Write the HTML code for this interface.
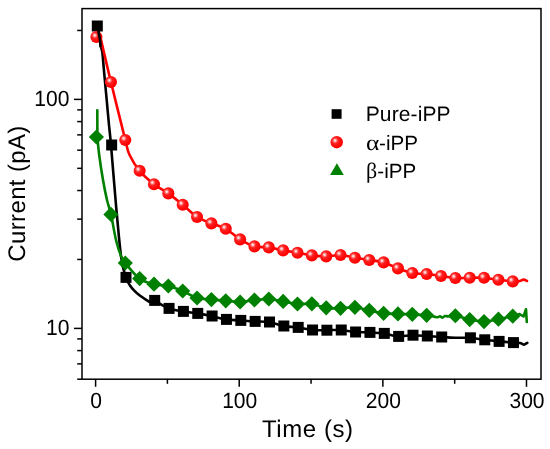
<!DOCTYPE html>
<html lang="en"><head><meta charset="utf-8"><title>Current vs Time</title>
<style>html,body{margin:0;padding:0;background:#fff;}svg{display:block;filter:blur(0.4px);}text{text-rendering:geometricPrecision;}</style>
</head><body>
<svg width="550" height="449" viewBox="0 0 550 449">
<defs><radialGradient id="rg" cx="0.38" cy="0.38" r="0.55" fx="0.36" fy="0.36"><stop offset="0" stop-color="#fff4f4"/><stop offset="0.12" stop-color="#ffd0d0"/><stop offset="0.25" stop-color="#ff7a7a"/><stop offset="0.45" stop-color="#ff2020"/><stop offset="1" stop-color="#ff0000"/></radialGradient></defs>
<rect width="550" height="449" fill="#fff"/>
<g stroke="#000" stroke-width="1.50" fill="none" stroke-linecap="butt">
<rect x="82.00" y="8.60" width="459.00" height="370.60"/>
<line x1="95.60" y1="379.20" x2="95.60" y2="386.80"/>
<line x1="167.41" y1="379.20" x2="167.41" y2="383.80"/>
<line x1="239.23" y1="379.20" x2="239.23" y2="386.80"/>
<line x1="311.04" y1="379.20" x2="311.04" y2="383.80"/>
<line x1="382.86" y1="379.20" x2="382.86" y2="386.80"/>
<line x1="454.67" y1="379.20" x2="454.67" y2="383.80"/>
<line x1="526.49" y1="379.20" x2="526.49" y2="386.80"/>
<line x1="77.20" y1="379.20" x2="82.00" y2="379.20"/>
<line x1="77.20" y1="363.87" x2="82.00" y2="363.87"/>
<line x1="77.20" y1="350.59" x2="82.00" y2="350.59"/>
<line x1="77.20" y1="338.88" x2="82.00" y2="338.88"/>
<line x1="74.00" y1="328.40" x2="82.00" y2="328.40"/>
<line x1="77.20" y1="259.46" x2="82.00" y2="259.46"/>
<line x1="77.20" y1="219.14" x2="82.00" y2="219.14"/>
<line x1="77.20" y1="190.53" x2="82.00" y2="190.53"/>
<line x1="77.20" y1="168.34" x2="82.00" y2="168.34"/>
<line x1="77.20" y1="150.20" x2="82.00" y2="150.20"/>
<line x1="77.20" y1="134.87" x2="82.00" y2="134.87"/>
<line x1="77.20" y1="121.59" x2="82.00" y2="121.59"/>
<line x1="77.20" y1="109.88" x2="82.00" y2="109.88"/>
<line x1="74.00" y1="99.40" x2="82.00" y2="99.40"/>
<line x1="77.20" y1="30.46" x2="82.00" y2="30.46"/>
</g>
<path d="M97.40,26.00 C97.53,26.67 98.05,29.13 98.40,31.00 C98.75,32.87 99.71,38.00 100.00,40.00 C100.29,42.00 100.29,44.40 100.60,46.00 C100.91,47.60 101.83,48.53 102.30,52.00 C102.77,55.47 103.51,65.60 104.10,72.00 C104.69,78.40 106.05,92.93 106.70,100.00 C107.35,107.07 108.43,119.00 109.00,125.00 C109.57,131.00 110.07,134.33 111.00,145.00 C111.93,155.67 114.67,190.20 116.00,205.00 C117.33,219.80 119.72,246.40 121.00,256.00 C122.28,265.60 124.40,273.07 125.60,277.00 C126.80,280.93 128.88,283.73 130.00,285.50 C131.12,287.27 132.81,289.07 134.00,290.30 C135.19,291.53 137.27,293.43 138.90,294.70 C140.53,295.97 144.75,298.83 146.20,299.80 C147.65,300.77 148.99,301.76 149.80,302.00 C150.61,302.24 151.74,301.81 152.30,301.60 C152.86,301.39 151.86,299.49 154.00,300.40 C156.14,301.31 164.52,306.93 168.35,308.40 C172.18,309.87 178.87,310.73 182.70,311.40 C186.53,312.07 193.22,312.79 197.05,313.40 C200.88,314.01 207.57,315.20 211.40,316.00 C215.23,316.80 221.92,318.81 225.75,319.40 C229.58,319.99 236.27,320.13 240.10,320.40 C243.93,320.67 250.62,321.19 254.45,321.40 C258.28,321.61 264.97,321.39 268.80,322.00 C272.63,322.61 279.32,325.28 283.15,326.00 C286.98,326.72 293.67,326.87 297.50,327.40 C301.33,327.93 308.02,329.63 311.85,330.00 C315.68,330.37 322.37,330.20 326.20,330.20 C330.03,330.20 336.72,329.76 340.55,330.00 C344.38,330.24 351.07,331.68 354.90,332.00 C358.73,332.32 365.42,332.21 369.25,332.40 C373.08,332.59 379.77,332.87 383.60,333.40 C387.43,333.93 394.12,336.16 397.95,336.40 C401.78,336.64 408.47,335.25 412.30,335.20 C416.13,335.15 422.82,335.76 426.65,336.00 C430.48,336.24 437.17,336.76 441.00,337.00 C444.83,337.24 451.52,337.69 455.35,337.80 C459.18,337.91 465.87,337.53 469.70,337.80 C473.53,338.07 480.22,339.32 484.05,339.80 C487.88,340.28 494.57,341.03 498.40,341.40 C502.23,341.77 509.87,342.39 512.75,342.60 C515.63,342.81 518.50,342.73 520.00,343.00 C521.50,343.27 523.03,344.63 524.00,344.60 C524.97,344.57 526.86,343.04 527.30,342.80" fill="none" stroke="#000" stroke-width="2.60" stroke-linejoin="round" stroke-linecap="round"/>
<rect x="91.80" y="20.50" width="11.00" height="11.00" fill="#000"/>
<rect x="106.15" y="139.50" width="11.00" height="11.00" fill="#000"/>
<rect x="120.50" y="271.90" width="11.00" height="11.00" fill="#000"/>
<rect x="149.20" y="294.90" width="11.00" height="11.00" fill="#000"/>
<rect x="163.55" y="302.90" width="11.00" height="11.00" fill="#000"/>
<rect x="177.90" y="305.90" width="11.00" height="11.00" fill="#000"/>
<rect x="192.25" y="307.90" width="11.00" height="11.00" fill="#000"/>
<rect x="206.60" y="310.50" width="11.00" height="11.00" fill="#000"/>
<rect x="220.95" y="313.90" width="11.00" height="11.00" fill="#000"/>
<rect x="235.30" y="314.90" width="11.00" height="11.00" fill="#000"/>
<rect x="249.65" y="315.90" width="11.00" height="11.00" fill="#000"/>
<rect x="264.00" y="316.50" width="11.00" height="11.00" fill="#000"/>
<rect x="278.35" y="320.50" width="11.00" height="11.00" fill="#000"/>
<rect x="292.70" y="321.90" width="11.00" height="11.00" fill="#000"/>
<rect x="307.05" y="324.50" width="11.00" height="11.00" fill="#000"/>
<rect x="321.40" y="324.70" width="11.00" height="11.00" fill="#000"/>
<rect x="335.75" y="324.50" width="11.00" height="11.00" fill="#000"/>
<rect x="350.10" y="326.50" width="11.00" height="11.00" fill="#000"/>
<rect x="364.45" y="326.90" width="11.00" height="11.00" fill="#000"/>
<rect x="378.80" y="327.90" width="11.00" height="11.00" fill="#000"/>
<rect x="393.15" y="330.90" width="11.00" height="11.00" fill="#000"/>
<rect x="407.50" y="329.70" width="11.00" height="11.00" fill="#000"/>
<rect x="421.85" y="330.50" width="11.00" height="11.00" fill="#000"/>
<rect x="436.20" y="331.50" width="11.00" height="11.00" fill="#000"/>
<rect x="464.90" y="332.30" width="11.00" height="11.00" fill="#000"/>
<rect x="479.25" y="334.30" width="11.00" height="11.00" fill="#000"/>
<rect x="493.60" y="335.90" width="11.00" height="11.00" fill="#000"/>
<rect x="507.95" y="337.10" width="11.00" height="11.00" fill="#000"/>
<path d="M96.2,37 L100.4,37.4 L100.40,37.40 C101.00,39.93 102.24,45.17 104.00,52.60 C105.76,60.03 107.40,67.43 110.95,82.00 C114.50,96.57 122.19,127.83 125.30,140.00 C128.41,152.17 127.21,149.87 129.60,155.00 C131.99,160.13 135.58,165.93 139.65,170.80 C143.72,175.67 149.22,180.43 154.00,184.20 C158.78,187.97 163.57,189.97 168.35,193.40 C173.13,196.83 177.92,200.87 182.70,204.80 C187.48,208.73 192.27,213.90 197.05,217.00 C201.83,220.10 206.62,221.43 211.40,223.40 C216.18,225.37 220.97,226.13 225.75,228.80 C230.53,231.47 235.32,236.47 240.10,239.40 C244.88,242.33 249.67,245.07 254.45,246.40 C259.23,247.73 264.02,246.73 268.80,247.40 C273.58,248.07 278.37,249.50 283.15,250.40 C287.93,251.30 292.72,251.97 297.50,252.80 C302.28,253.63 307.07,254.80 311.85,255.40 C316.63,256.00 321.42,256.47 326.20,256.40 C330.98,256.33 335.77,254.77 340.55,255.00 C345.33,255.23 350.12,256.97 354.90,257.80 C359.68,258.63 364.47,259.23 369.25,260.00 C374.03,260.77 378.82,261.00 383.60,262.40 C388.38,263.80 393.17,266.63 397.95,268.40 C402.73,270.17 407.52,272.07 412.30,273.00 C417.08,273.93 421.87,273.50 426.65,274.00 C431.43,274.50 436.22,275.33 441.00,276.00 C445.78,276.67 450.57,277.70 455.35,278.00 C460.13,278.30 464.92,277.83 469.70,277.80 C474.48,277.77 479.27,277.47 484.05,277.80 C488.83,278.13 493.62,279.20 498.40,279.80 C503.18,280.40 509.32,281.15 512.75,281.40 C516.18,281.65 517.21,281.60 519.00,281.30 C520.79,281.00 522.17,279.65 523.50,279.60 C524.83,279.55 526.42,280.77 527.00,281.00" fill="none" stroke="#ff0000" stroke-width="2.60" stroke-linejoin="round" stroke-linecap="round"/>
<circle cx="96.40" cy="37.00" r="6.05" fill="url(#rg)"/>
<circle cx="110.95" cy="82.00" r="6.05" fill="url(#rg)"/>
<circle cx="125.30" cy="140.00" r="6.05" fill="url(#rg)"/>
<circle cx="139.65" cy="170.80" r="6.05" fill="url(#rg)"/>
<circle cx="154.00" cy="184.20" r="6.05" fill="url(#rg)"/>
<circle cx="168.35" cy="193.40" r="6.05" fill="url(#rg)"/>
<circle cx="182.70" cy="204.80" r="6.05" fill="url(#rg)"/>
<circle cx="197.05" cy="217.00" r="6.05" fill="url(#rg)"/>
<circle cx="211.40" cy="223.40" r="6.05" fill="url(#rg)"/>
<circle cx="225.75" cy="228.80" r="6.05" fill="url(#rg)"/>
<circle cx="240.10" cy="239.40" r="6.05" fill="url(#rg)"/>
<circle cx="254.45" cy="246.40" r="6.05" fill="url(#rg)"/>
<circle cx="268.80" cy="247.40" r="6.05" fill="url(#rg)"/>
<circle cx="283.15" cy="250.40" r="6.05" fill="url(#rg)"/>
<circle cx="297.50" cy="252.80" r="6.05" fill="url(#rg)"/>
<circle cx="311.85" cy="255.40" r="6.05" fill="url(#rg)"/>
<circle cx="326.20" cy="256.40" r="6.05" fill="url(#rg)"/>
<circle cx="340.55" cy="255.00" r="6.05" fill="url(#rg)"/>
<circle cx="354.90" cy="257.80" r="6.05" fill="url(#rg)"/>
<circle cx="369.25" cy="260.00" r="6.05" fill="url(#rg)"/>
<circle cx="383.60" cy="262.40" r="6.05" fill="url(#rg)"/>
<circle cx="397.95" cy="268.40" r="6.05" fill="url(#rg)"/>
<circle cx="412.30" cy="273.00" r="6.05" fill="url(#rg)"/>
<circle cx="426.65" cy="274.00" r="6.05" fill="url(#rg)"/>
<circle cx="441.00" cy="276.00" r="6.05" fill="url(#rg)"/>
<circle cx="455.35" cy="278.00" r="6.05" fill="url(#rg)"/>
<circle cx="469.70" cy="277.80" r="6.05" fill="url(#rg)"/>
<circle cx="484.05" cy="277.80" r="6.05" fill="url(#rg)"/>
<circle cx="498.40" cy="279.80" r="6.05" fill="url(#rg)"/>
<circle cx="512.75" cy="281.40" r="6.05" fill="url(#rg)"/>
<path d="M98.40,31.00 L100.00,40.00 L100.60,46.00" fill="none" stroke="#000" stroke-width="2.60" stroke-linejoin="round" stroke-linecap="round"/>
<path d="M97.30,110.30 L97.40,137.00" fill="none" stroke="#008000" stroke-width="2.60" stroke-linejoin="round" stroke-linecap="round"/>
<path d="M97.40,137.00 C97.70,140.00 98.27,147.83 99.20,155.00 C100.13,162.17 101.70,172.50 103.00,180.00 C104.30,187.50 105.67,194.27 107.00,200.00 C108.33,205.73 109.50,207.73 111.00,214.40 C112.50,221.07 114.33,233.07 116.00,240.00 C117.67,246.93 119.40,252.08 121.00,256.00 C122.60,259.92 122.49,259.73 125.60,263.50 C128.71,267.27 134.92,275.15 139.65,278.60 C144.38,282.05 149.22,282.97 154.00,284.20 C158.78,285.43 163.57,284.87 168.35,286.00 C173.13,287.13 177.92,289.00 182.70,291.00 C187.48,293.00 192.27,296.57 197.05,298.00 C201.83,299.43 206.62,299.13 211.40,299.60 C216.18,300.07 220.97,300.40 225.75,300.80 C230.53,301.20 235.32,302.13 240.10,302.00 C244.88,301.87 249.67,300.50 254.45,300.00 C259.23,299.50 264.02,298.77 268.80,299.00 C273.58,299.23 278.37,300.57 283.15,301.40 C287.93,302.23 292.72,303.59 297.50,304.00 C302.28,304.41 307.07,303.21 311.85,303.85 C316.63,304.49 321.42,307.10 326.20,307.85 C330.98,308.60 335.77,308.43 340.55,308.35 C345.33,308.27 350.12,307.02 354.90,307.35 C359.68,307.68 364.47,309.35 369.25,310.35 C374.03,311.35 378.82,312.75 383.60,313.35 C388.38,313.95 393.17,313.78 397.95,313.95 C402.73,314.12 407.52,314.12 412.30,314.35 C417.08,314.58 423.03,314.98 426.65,315.35 C430.27,315.73 432.19,316.28 434.00,316.60 C435.81,316.93 436.50,317.37 437.50,317.30 C438.50,317.23 439.17,316.15 440.00,316.20 C440.83,316.25 441.67,317.63 442.50,317.60 C443.33,317.57 444.00,316.20 445.00,316.00 C446.00,315.80 446.77,316.44 448.50,316.40 C450.23,316.36 451.82,315.23 455.35,315.75 C458.88,316.27 464.92,318.58 469.70,319.55 C474.48,320.52 479.27,321.62 484.05,321.55 C488.83,321.48 493.62,320.05 498.40,319.15 C503.18,318.25 510.36,316.65 512.75,316.15" fill="none" stroke="#008000" stroke-width="2.60" stroke-linejoin="round" stroke-linecap="round"/>
<path d="M513.70,315.80 L519.50,314.00 L523.50,316.50 L526.00,309.30 L526.80,322.00" fill="none" stroke="#008000" stroke-width="2.60" stroke-linejoin="round" stroke-linecap="round"/>
<path d="M88.80,137.00 L96.40,129.40 L104.00,137.00 L96.40,144.60 Z" fill="#008000"/>
<path d="M103.35,214.40 L110.95,206.80 L118.55,214.40 L110.95,222.00 Z" fill="#008000"/>
<path d="M117.70,263.00 L125.30,255.40 L132.90,263.00 L125.30,270.60 Z" fill="#008000"/>
<path d="M132.05,278.60 L139.65,271.00 L147.25,278.60 L139.65,286.20 Z" fill="#008000"/>
<path d="M146.40,284.20 L154.00,276.60 L161.60,284.20 L154.00,291.80 Z" fill="#008000"/>
<path d="M160.75,286.00 L168.35,278.40 L175.95,286.00 L168.35,293.60 Z" fill="#008000"/>
<path d="M175.10,291.00 L182.70,283.40 L190.30,291.00 L182.70,298.60 Z" fill="#008000"/>
<path d="M189.45,298.00 L197.05,290.40 L204.65,298.00 L197.05,305.60 Z" fill="#008000"/>
<path d="M203.80,299.60 L211.40,292.00 L219.00,299.60 L211.40,307.20 Z" fill="#008000"/>
<path d="M218.15,300.80 L225.75,293.20 L233.35,300.80 L225.75,308.40 Z" fill="#008000"/>
<path d="M232.50,302.00 L240.10,294.40 L247.70,302.00 L240.10,309.60 Z" fill="#008000"/>
<path d="M246.85,300.00 L254.45,292.40 L262.05,300.00 L254.45,307.60 Z" fill="#008000"/>
<path d="M261.20,299.00 L268.80,291.40 L276.40,299.00 L268.80,306.60 Z" fill="#008000"/>
<path d="M275.55,301.40 L283.15,293.80 L290.75,301.40 L283.15,309.00 Z" fill="#008000"/>
<path d="M289.90,304.00 L297.50,296.40 L305.10,304.00 L297.50,311.60 Z" fill="#008000"/>
<path d="M304.25,303.85 L311.85,296.25 L319.45,303.85 L311.85,311.45 Z" fill="#008000"/>
<path d="M318.60,307.85 L326.20,300.25 L333.80,307.85 L326.20,315.45 Z" fill="#008000"/>
<path d="M332.95,308.35 L340.55,300.75 L348.15,308.35 L340.55,315.95 Z" fill="#008000"/>
<path d="M347.30,307.35 L354.90,299.75 L362.50,307.35 L354.90,314.95 Z" fill="#008000"/>
<path d="M361.65,310.35 L369.25,302.75 L376.85,310.35 L369.25,317.95 Z" fill="#008000"/>
<path d="M376.00,313.35 L383.60,305.75 L391.20,313.35 L383.60,320.95 Z" fill="#008000"/>
<path d="M390.35,313.95 L397.95,306.35 L405.55,313.95 L397.95,321.55 Z" fill="#008000"/>
<path d="M404.70,314.35 L412.30,306.75 L419.90,314.35 L412.30,321.95 Z" fill="#008000"/>
<path d="M419.05,315.35 L426.65,307.75 L434.25,315.35 L426.65,322.95 Z" fill="#008000"/>
<path d="M447.75,315.75 L455.35,308.15 L462.95,315.75 L455.35,323.35 Z" fill="#008000"/>
<path d="M462.10,319.55 L469.70,311.95 L477.30,319.55 L469.70,327.15 Z" fill="#008000"/>
<path d="M476.45,321.55 L484.05,313.95 L491.65,321.55 L484.05,329.15 Z" fill="#008000"/>
<path d="M490.80,319.15 L498.40,311.55 L506.00,319.15 L498.40,326.75 Z" fill="#008000"/>
<path d="M505.15,316.15 L512.75,308.55 L520.35,316.15 L512.75,323.75 Z" fill="#008000"/>
<rect x="331.6" y="109.2" width="10" height="9.6" fill="#000"/>
<circle cx="336.7" cy="142.2" r="6.2" fill="url(#rg)"/>
<path d="M336.9,163.2 L343.8,174.9 L330.1,174.9 Z" fill="#008000"/>
<text transform="translate(96.10,408.20) scale(0.9570,1)" font-family="'Liberation Sans', Arial, sans-serif" font-size="22.00" text-anchor="middle" fill="#000">0</text>
<text transform="translate(239.73,408.20) scale(0.9570,1)" font-family="'Liberation Sans', Arial, sans-serif" font-size="22.00" text-anchor="middle" fill="#000">100</text>
<text transform="translate(383.36,408.20) scale(0.9570,1)" font-family="'Liberation Sans', Arial, sans-serif" font-size="22.00" text-anchor="middle" fill="#000">200</text>
<text transform="translate(526.99,408.20) scale(0.9570,1)" font-family="'Liberation Sans', Arial, sans-serif" font-size="22.00" text-anchor="middle" fill="#000">300</text>
<text transform="translate(69.40,106.00) scale(0.9570,1)" font-family="'Liberation Sans', Arial, sans-serif" font-size="22.00" text-anchor="end" fill="#000">100</text>
<text transform="translate(69.40,335.20) scale(0.9570,1)" font-family="'Liberation Sans', Arial, sans-serif" font-size="22.00" text-anchor="end" fill="#000">10</text>
<text transform="translate(307.80,436.70)" font-family="'Liberation Sans', Arial, sans-serif" font-size="24.00" text-anchor="middle" fill="#000" letter-spacing="0.55">Time (s)</text>
<text transform="translate(25.40,193.50) rotate(-90)" font-family="'Liberation Sans', Arial, sans-serif" font-size="24.00" text-anchor="middle" fill="#000" letter-spacing="0.36">Current (pA)</text>
<text transform="translate(365.70,121.20)" font-family="'Liberation Sans', Arial, sans-serif" font-size="21.00" text-anchor="start" fill="#000" letter-spacing="0.12">Pure-iPP</text>
<text transform="translate(366.0,150.3) scale(1.16,1)" font-family="'Liberation Serif', 'DejaVu Serif', serif" font-size="22" fill="#000">α</text>
<text transform="translate(379.10,150.30)" font-family="'Liberation Sans', Arial, sans-serif" font-size="20.60" text-anchor="start" fill="#000">-iPP</text>
<text transform="translate(365.9,177.6)" font-family="'Liberation Serif', 'DejaVu Serif', serif" font-size="22" fill="#000">β</text>
<text transform="translate(377.30,177.60)" font-family="'Liberation Sans', Arial, sans-serif" font-size="20.60" text-anchor="start" fill="#000">-iPP</text>
</svg>
</body></html>
